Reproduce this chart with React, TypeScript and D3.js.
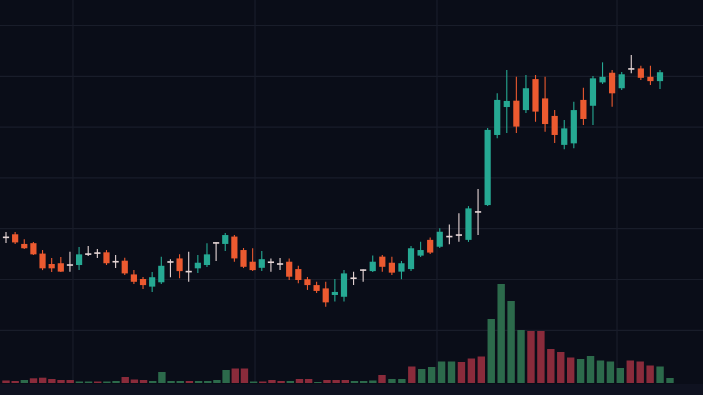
import React from "react";
import * as d3 from "d3";

const W = 703;
const H = 395;

const opens = [216.6,217.8,214.0,214.3,210.2,206.1,206.4,205.7,205.7,210.0,210.4,210.7,207.0,207.4,202.0,200.2,197.2,198.9,206.9,208.3,203.1,204.4,205.7,214.4,214.0,216.9,211.6,207.0,204.6,206.8,206.1,207.0,204.1,200.1,197.8,196.5,193.9,193.2,200.5,203.7,203.3,209.0,206.6,203.1,204.1,209.4,215.6,212.9,216.9,217.5,215.6,226.6,229.3,256.9,267.9,270.4,266.7,278.9,271.3,264.4,253.0,253.6,270.7,268.4,277.6,281.4,275.3,282.9,283.1,279.8,278.1];
const closes = [216.6,214.6,212.3,209.9,204.4,204.4,203.1,205.7,209.9,210.0,210.4,206.4,207.0,202.4,199.1,197.8,200.9,205.4,206.9,203.3,203.1,206.6,209.9,214.4,217.5,208.3,205.0,203.7,208.0,206.8,206.1,201.1,199.8,197.8,195.5,191.0,195.1,202.4,200.5,203.7,207.0,205.0,202.7,206.4,212.3,211.6,210.6,218.8,216.9,217.5,228.0,226.6,258.9,270.7,270.3,260.2,275.3,266.1,261.2,256.9,259.5,266.7,263.2,279.2,279.8,273.3,280.8,282.9,279.4,278.1,281.6];
const highs = [218.7,218.7,215.8,214.8,211.6,208.5,208.9,210.9,212.8,213.2,212.0,211.6,209.6,208.6,203.7,201.0,203.0,209.0,208.0,209.9,210.9,209.6,214.3,214.6,218.3,217.5,212.4,212.3,211.2,208.3,208.5,208.3,205.4,201.0,199.1,199.1,200.2,203.7,203.1,203.9,209.4,209.6,209.0,207.3,213.2,214.9,216.5,220.2,221.7,226.1,228.9,235.6,259.6,273.3,282.5,279.8,280.5,280.5,279.8,266.7,262.8,270.0,275.5,280.1,285.5,282.5,281.7,288.4,284.2,284.2,282.5];
const lows = [214.4,214.0,212.0,209.6,203.7,203.0,203.0,203.1,203.7,209.3,208.5,205.7,204.5,201.8,198.2,196.3,195.1,198.2,200.9,200.5,199.1,202.6,204.9,207.3,211.2,207.0,204.5,203.3,203.3,203.1,203.7,199.8,198.5,195.9,194.7,189.3,191.3,191.3,197.8,199.1,203.0,203.1,201.8,200.1,203.3,208.9,210.0,212.4,213.9,214.9,214.8,217.5,228.9,255.6,257.7,257.7,265.6,262.1,258.2,253.7,251.3,251.7,260.8,260.8,277.0,268.0,274.6,281.2,278.5,276.6,275.0];

const volumes = [2.5,2,3,4.7,5.3,4,3,3,1.5,1.5,1.5,1.5,2,6,3.5,3,2,11,2,2,2,2,2,3,13,14.5,14.5,1.5,1.5,3,2,2,4,4,1,3,3,3,2,2,2.5,8,4,4,16.5,14,16,21.5,21.5,21,24.5,26.5,64,99,82,53,52,52,34,31,25.5,24,27,22.5,21.5,15,22.5,21.5,17.5,16.5,5];
const volDir = ["d","d","u","d","d","d","d","d","u","u","d","u","u","d","d","d","u","u","u","u","d","u","u","u","u","d","d","u","d","d","d","u","d","d","u","d","d","d","u","u","u","d","u","u","d","u","u","u","u","d","d","d","u","u","u","u","d","d","d","d","d","u","u","u","u","u","d","d","d","u","u"];

const priceTicks = [180, 200, 220, 240, 260, 280, 300];
const timeTicks = [7.33, 27.26, 46.71, 65.51];

const C = {
  bg: "#0a0d18",
  grid: "#191d2a",
  up: "#26a993",
  down: "#ec5a30",
  doji: "#e6d6d6",
  volUp: "#2c6a4b",
  volDown: "#8a2b3b",
  strip: "#0f1220",
};

export default function App() {
  const idx = d3.range(opens.length);
  const x = d3.scaleLinear().domain([0, 37, 70]).range([6, 344, 660]);
  const xv = d3.scaleLinear().domain([0, 41, 70]).range([6, 382, 670]);
  const y = d3.scaleLinear().domain([180, 300]).range([330.3, 25.5]);
  const yv = d3.scaleLinear().domain([0, 100]).range([383, 283]);
  const bw = 6.2;
  const vw = 7.4;

  return (
    <svg
      width={W}
      height={H}
      style={{ position: "fixed", left: 0, top: 0, display: "block" }}
    >
      <rect x={0} y={0} width={W} height={H} fill={C.bg} />
      <rect x={0} y={yv(0) + 1} width={W} height={H - yv(0)} fill={C.strip} />
      {priceTicks.map((t) => (
        <line key={"h" + t} x1={0} x2={W} y1={y(t)} y2={y(t)} stroke={C.grid} strokeWidth={1.2} />
      ))}
      {timeTicks.map((t) => (
        <line key={"v" + t} x1={x(t)} x2={x(t)} y1={0} y2={yv(0)} stroke={C.grid} strokeWidth={1.2} />
      ))}
      {idx.map((i) => {
        const h = yv(0) - yv(volumes[i]);
        return (
          <rect
            key={"vol" + i}
            x={xv(i) - vw / 2}
            y={yv(volumes[i])}
            width={vw}
            height={Math.max(h, 0.8)}
            fill={volDir[i] === "u" ? C.volUp : C.volDown}
          />
        );
      })}
      {idx.map((i) => {
        const o = opens[i];
        const c = closes[i];
        const col = c > o ? C.up : c < o ? C.down : C.doji;
        const top = y(Math.max(o, c));
        const bot = y(Math.min(o, c));
        const bh = Math.max(bot - top, 1.6);
        return (
          <g key={"c" + i}>
            <line x1={x(i)} x2={x(i)} y1={y(highs[i])} y2={y(lows[i])} stroke={col} strokeWidth={1.1} />
            <rect x={x(i) - bw / 2} y={c === o ? top - 0.8 : top} width={bw} height={bh} fill={col} />
          </g>
        );
      })}
    </svg>
  );
}
